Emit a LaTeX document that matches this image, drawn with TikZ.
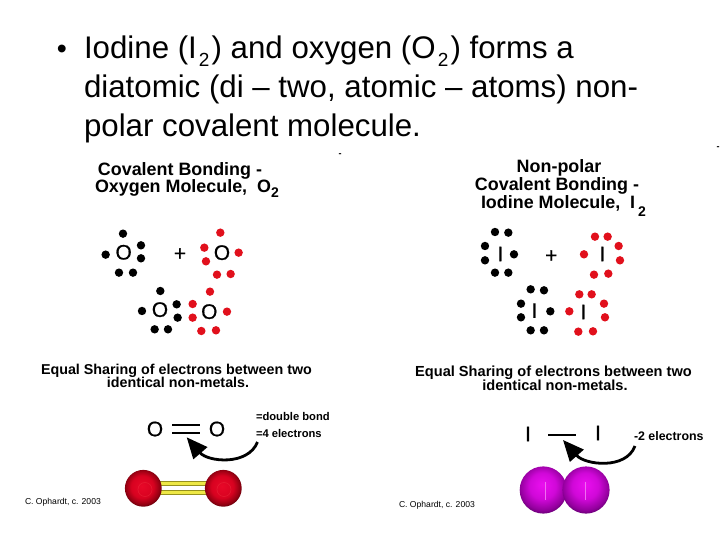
\documentclass[tikz,border=0pt]{standalone}
\usepackage{fontspec}
\setmainfont{Liberation Sans}
\newfontface\atomface[FakeBold=0.7]{Liberation Sans}
\usetikzlibrary{arrows.meta}
\definecolor{dotred}{RGB}{225,16,28}
\definecolor{bondy}{RGB}{238,232,70}
\definecolor{bondo}{RGB}{150,145,30}
\definecolor{ringred}{RGB}{240,60,70}
\definecolor{streak}{RGB}{240,110,240}
\definecolor{ra}{RGB}{232,8,40}
\definecolor{rb}{RGB}{216,2,32}
\definecolor{rc}{RGB}{150,0,18}
\definecolor{rd}{RGB}{70,0,6}
\definecolor{re}{RGB}{40,0,0}
\definecolor{pa}{RGB}{235,15,240}
\definecolor{pb}{RGB}{208,8,216}
\definecolor{pc}{RGB}{148,0,158}
\definecolor{pd}{RGB}{60,0,76}
\definecolor{pe}{RGB}{30,0,45}
\pgfdeclareradialshading{redsphere}{\pgfpoint{-2bp}{3bp}}{
  color(0bp)=(ra);
  color(15bp)=(rb);
  color(23bp)=(rc);
  color(29bp)=(rd);
  color(50bp)=(re)}
\pgfdeclareradialshading{purplesphere}{\pgfpoint{-1bp}{6bp}}{
  color(0bp)=(pa);
  color(14bp)=(pb);
  color(24bp)=(pc);
  color(32bp)=(pd);
  color(50bp)=(pe)}
\newcommand{\px}[1]{\fontsize{#1pt}{#1pt}\selectfont}
\newcommand{\subtwo}{\kern2pt\raisebox{-0.27em}{\px{19}2}\kern2.2pt}
\tikzset{
  x=1pt,y=-1pt,
  lbl/.style={inner sep=0pt,outer sep=0pt},
  main/.style={lbl,anchor=base west,font=\px{31.25}},
  head/.style={lbl,anchor=base,font=\px{17.9}\bfseries},
  heads/.style={lbl,anchor=base west,font=\px{17.9}\bfseries},
  shareL/.style={lbl,anchor=base,font=\px{14.3}\bfseries},
  shareR/.style={lbl,anchor=base,font=\px{14.6}\bfseries},
  atom/.style={lbl,anchor=center,font=\px{21}\atomface},
  small/.style={lbl,anchor=base west,font=\px{11.2}\bfseries},
  smallb/.style={lbl,anchor=base west,font=\px{12.4}\bfseries},
  credit/.style={lbl,anchor=base west,font=\px{8.6}},
  bondline/.style={line width=2.8pt},
  curved/.style={line width=2.8pt,-{Triangle[length=21pt,width=18pt]}},
  zoomA/.style={shift={(20,150)},x=0.3333pt,y=-0.3333pt},
  zoomB/.style={shift={(380,150)},x=0.3333pt,y=-0.3333pt}
}
\begin{document}
\begin{tikzpicture}
\useasboundingbox (0,0) rectangle (720,540);
\fill[white] (0,0) rectangle (720,540);
% bullet text
\node[lbl,font=\px{28.7}] (bul) at (62,52) {•};
\node[main] (l1) at (84,58.5) {Iodine (I\subtwo) and oxygen (O\subtwo) forms a};
\node[main] (l2) at (84,97.5) {diatomic (di – two, atomic – atoms) non-};
\node[main] (l3) at (84,136.5) {polar covalent molecule.};
\node[lbl,font=\px{9}\bfseries] (t1) at (340,155.5) {-};
\node[lbl,font=\px{9}\bfseries] (t2) at (718,148.5) {-};
% headings
\node[head] (h1) at (180,176) {Covalent Bonding -};
\node[heads] (h2) at (95,193) {Oxygen Molecule,\ \ O};
\node[lbl,font=\px{14}\bfseries] (h2s) at (275,193) {2};
\node[head] (h3) at (559,173) {Non-polar};
\node[head] (h4) at (557,191) {Covalent Bonding -};
\node[heads] (h5) at (481,209) {Iodine Molecule,\ \ I};
\node[lbl,font=\px{14}\bfseries] (h5s) at (642,212) {2};
% oxygen dots
\begin{scope}[zoomA]
\foreach \a/\b in {309/251,363/286,363/325,257/314,297/368,339/368,421/423,366/483,470/463,473/503,404/538,444/538}
  \fill[black] (\a,\b) circle[radius=4.2pt];
\foreach \a/\b in {601/248,553/293,558/334,656/308,591/374,632/372,570/425,518/462,518/503,621/485,544/543,588/541}
  \fill[dotred] (\a,\b) circle[radius=4.2pt];
\node[atom] (o1) at (311,307) {O};
\node[atom] (o2) at (606,308) {O};
\node[atom] (o3) at (420,479) {O};
\node[atom] (o4) at (568,485) {O};
\node[atom] (p1) at (480,313) {+};
\end{scope}
% iodine dots
\begin{scope}[zoomB]
\foreach \a/\b in {345/246,385/248,315/288,315/331,402/313,345/368,385/368,452/418,492/421,423/461,423/502,511/484,452/541,492/541}
  \fill[black] (\a,\b) circle[radius=4.2pt];
\foreach \a/\b in {645/260,683/260,716/288,720/331,612/313,642/374,685/371,598/433,635/433,672/461,675/502,568/484,595/545,639/544}
  \fill[dotred] (\a,\b) circle[radius=4.2pt];
\node[atom] (i1) at (361,312) {I};
\node[atom] (i2) at (667,312) {I};
\node[atom] (i3) at (463,482) {I};
\node[atom] (i4) at (610,486) {I};
\node[atom] (p2) at (514,319) {+};
\end{scope}
% sharing text
\node[shareL] (s1) at (176.5,374) {Equal Sharing of electrons between two};
\node[shareL] (s2) at (178,387.5) {identical non-metals.};
\node[shareR] (s3) at (553.5,376) {Equal Sharing of electrons between two};
\node[shareR] (s4) at (555,390) {identical non-metals.};
% structural formula O=O
\node[atom] (fo1) at (155,429) {O};
\node[atom] (fo2) at (217,429) {O};
\coordinate (b1a) at (172,425); \coordinate (b1b) at (200,425);
\coordinate (b2a) at (172,433); \coordinate (b2b) at (200,433);
\draw[bondline] (b1a) -- (b1b);
\draw[bondline] (b2a) -- (b2b);
\node[small] (dbl) at (256,420) {=double bond};
\node[small] (fou) at (256,437) {=4 electrons};
\coordinate (a1s) at (257.5,442);
\coordinate (a1e) at (186.7,437.3);
\draw[curved] (a1s) .. controls (248,466) and (208,462) .. (a1e);
% formula I-I
\node[atom] (fi1) at (528,434) {I};
\node[atom] (fi2) at (598,433) {I};
\coordinate (b3a) at (548,435); \coordinate (b3b) at (576,435);
\draw[bondline] (b3a) -- (b3b);
\node[smallb] (two) at (634,440) {-2 electrons};
\coordinate (a2s) at (635,446);
\coordinate (a2e) at (563,440);
\draw[curved] (a2s) .. controls (626,470) and (585,465) .. (a2e);
% models
\coordinate (rb1) at (158,483.3); \coordinate (rb2) at (208,483.3);
\coordinate (rb3) at (158,492.3); \coordinate (rb4) at (208,492.3);
\draw[bondo,line width=5pt] (rb1) -- (rb2);
\draw[bondo,line width=5pt] (rb3) -- (rb4);
\draw[bondy,line width=2.5pt] (rb1) -- (rb2);
\draw[bondy,line width=2.5pt] (rb3) -- (rb4);
\shade[shading=redsphere] (143.3,488.3) circle[radius=18.4pt];
\shade[shading=redsphere] (223.3,488.3) circle[radius=18.4pt];
\draw[ringred,line width=0.7pt,opacity=0.35] (145,489.5) circle[radius=7pt];
\draw[ringred,line width=0.7pt,opacity=0.35] (224,489.5) circle[radius=7pt];
\shade[shading=purplesphere] (543.3,490) circle[radius=23.6pt];
\shade[shading=purplesphere] (586,490) circle[radius=23.6pt];
\draw[streak,line width=0.9pt] (545,482) -- (545,500);
\draw[streak,line width=0.9pt] (585,482) -- (585,500);
\node[credit] (c1) at (25,504) {C. Ophardt, c. 2003};
\node[credit] (c2) at (399,507) {C. Ophardt, c. 2003};
\end{tikzpicture}
\end{document}
